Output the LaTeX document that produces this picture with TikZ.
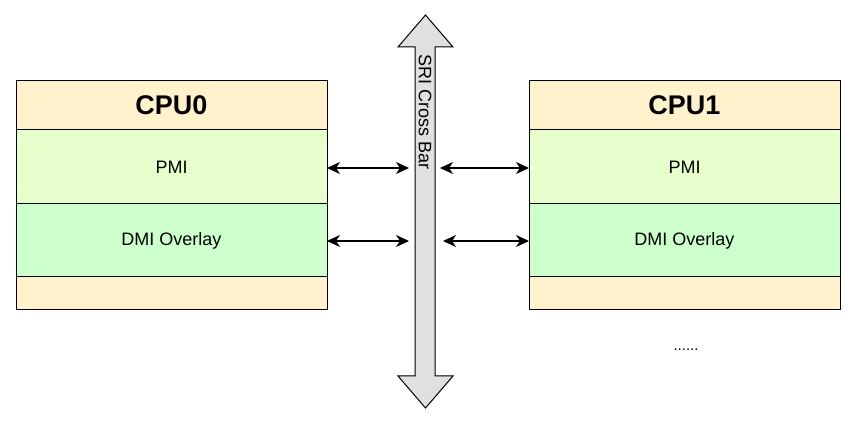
\documentclass[tikz,border=0pt]{standalone}
\usepackage{fontspec}
\setmainfont{Liberation Sans}
\usetikzlibrary{arrows.meta}
\begin{document}
\begin{tikzpicture}[x=1pt,y=-1pt,
  blk/.style={draw=black,line width=1pt},
  lbl/.style={font=\fontsize{18}{21}\selectfont},
  bi/.style={{Stealth[length=13pt,width=12pt,inset=4pt]}-{Stealth[length=13pt,width=12pt,inset=4pt]},line width=1.2pt}]
\useasboundingbox (0,0) rectangle (855,430);
\foreach \n/\x/\t in {a/16/CPU0,b/529/CPU1}{
  \fill[fill=white](\x,81) rectangle ++(311,229);
  \draw[blk,fill={rgb,255:red,255;green,242;blue,204}] (\x,81) rectangle ++(311,49) node[midway,font=\bfseries\fontsize{27}{30}\selectfont] (\n h) {\t};
  \draw[blk,fill={rgb,255:red,230;green,255;blue,204}] (\x,130) rectangle ++(311,74) node[midway,lbl] (\n p) {PMI};
  \draw[blk,fill={rgb,255:red,204;green,255;blue,204}] (\x,204) rectangle ++(311,73) node[midway,lbl] (\n d) {DMI Overlay};
  \draw[blk,fill={rgb,255:red,255;green,242;blue,204}] (\x,277) rectangle ++(311,33);
}
\draw[blk,fill={rgb,255:red,224;green,224;blue,224}] (415,47) -- (398,47) -- (425.5,15) -- (453,47) -- (435,47) -- (435,376) -- (453,376) -- (425.5,408) -- (398,376) -- (415,376) -- cycle;
\node[lbl,rotate=-90,anchor=west] (sri) at (425,51) {SRI Cross Bar};
\coordinate (l1) at (409,168); \coordinate (l2) at (409,241);
\coordinate (r1) at (440,168); \coordinate (r2) at (443,241);
\draw[bi] (327,168) -- (l1);
\draw[bi] (327,241) -- (l2);
\draw[bi] (r1) -- (529,168);
\draw[bi] (r2) -- (529,241);
\node[font=\fontsize{15}{16}\selectfont] (dots) at (686,350) {......};
\end{tikzpicture}
\end{document}
